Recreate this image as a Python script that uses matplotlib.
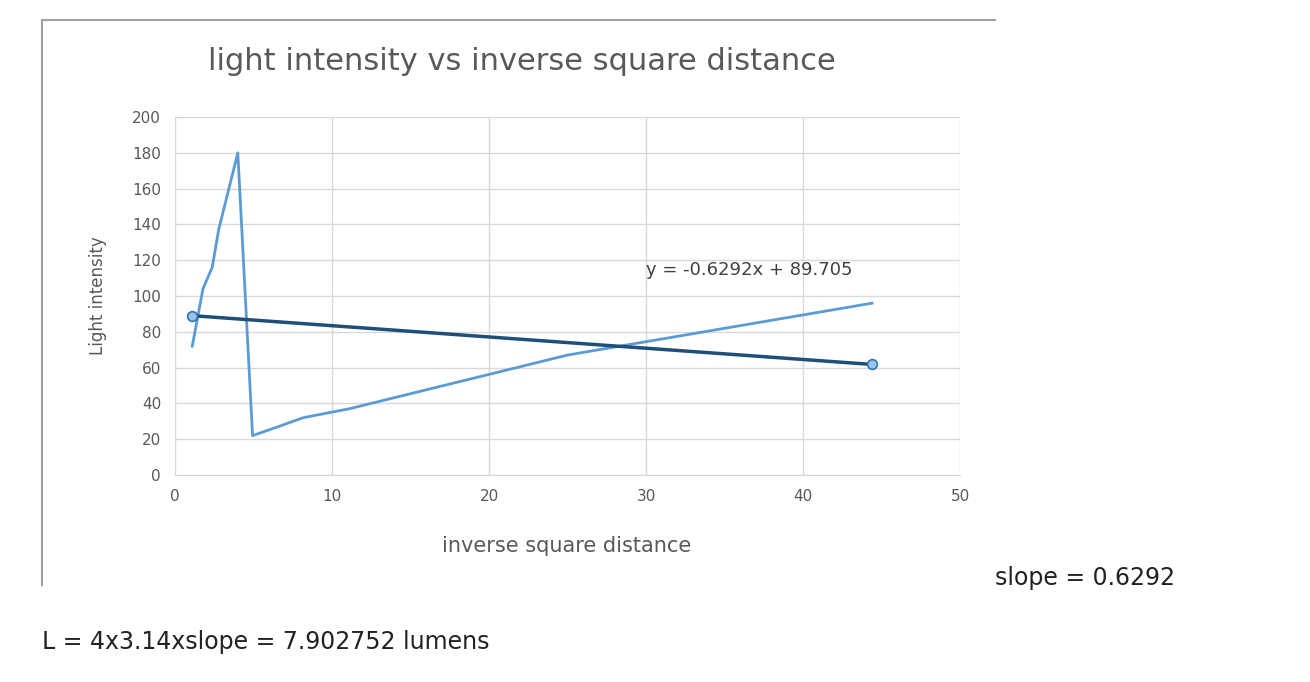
import matplotlib
matplotlib.use("Agg")
import matplotlib.pyplot as plt
import numpy as np

x_vals = [1.1, 1.78, 2.37, 2.78, 4.0, 4.94, 6.25, 8.16, 11.1, 25.0, 44.4]
y_vals = [72, 104, 116, 137, 180, 22, 26, 32, 37, 67, 96]
slope, intercept = -0.6292, 89.705
x_ticks = [0, 10, 20, 30, 40, 50]
y_ticks = list(range(0, 201, 20))

fig = plt.figure(figsize=(13.10, 6.82), dpi=100)
ax = fig.add_axes([175/1310, 1-475/682, 785/1310, 358/682])
ax.set_xlim(0, 50)
ax.set_ylim(0, 200)
ax.set_xticks(x_ticks)
ax.set_yticks(y_ticks)
ax.grid(True, color='#d9d9d9', lw=1)
ax.set_axisbelow(True)
for s in ['top', 'right']:
    ax.spines[s].set_visible(False)
for s in ['left', 'bottom']:
    ax.spines[s].set_color('#d9d9d9')
ax.tick_params(length=0, labelsize=11, labelcolor='#595959', pad=10)

ax.plot(x_vals, y_vals, color='#5b9bd5', lw=2)
tx = np.array([x_vals[0], x_vals[-1]])
ax.plot(tx, slope*tx+intercept, color='#1f4e79', lw=2.5)
ax.plot(tx, slope*tx+intercept, 'o', ms=7, mfc='#9dc3e6', mec='#2e75b6', mew=1.2)
ax.text(30, 112, 'y = -0.6292x + 89.705', fontsize=13, color='#404040')

fig.text(522/1310, 1-62/682, 'light intensity vs inverse square distance', fontsize=22,
         color='#595959', ha='center', va='center')
fig.text(567/1310, 1-546/682, 'inverse square distance', fontsize=15, color='#595959',
         ha='center', va='center')
ax.set_ylabel('Light intensity', fontsize=12, color='#595959', labelpad=18)

# chart frame
fig.add_artist(plt.Line2D([42/1310, 42/1310], [1-20/682, 1-585/682], color='#a0a0a0', lw=1.5))
fig.add_artist(plt.Line2D([42/1310, 995/1310], [1-20/682, 1-20/682], color='#a0a0a0', lw=1.5))
fig.text(995/1310, 1-578/682, 'slope = 0.6292', fontsize=17, color='#222222', va='center')
fig.text(42/1310, 1-642/682, 'L = 4x3.14xslope = 7.902752 lumens', fontsize=17, color='#222222', va='center')
fig.savefig('out.png', dpi=100)
